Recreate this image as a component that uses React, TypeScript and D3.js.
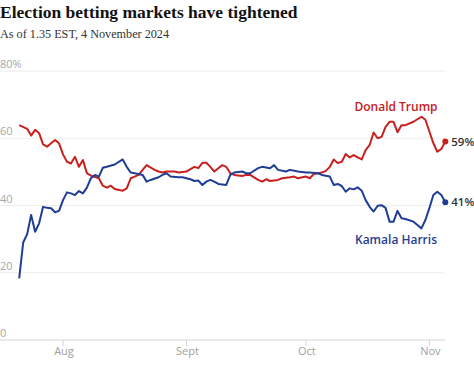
import * as d3 from "d3";

// betting market odds, % chance of winning
const trumpDates = [
  "07-21", "07-23", "07-24", "07-25", "07-26", "07-27", "07-28", "07-29", "07-30", "07-31",
  "08-01", "08-02", "08-03", "08-04", "08-05", "08-06", "08-07", "08-08", "08-10", "08-11",
  "08-12", "08-13", "08-14", "08-16", "08-17", "08-18", "08-19", "08-20", "08-21", "08-22",
  "08-24", "08-25", "08-26", "08-27", "08-29", "08-30", "09-01", "09-02", "09-03", "09-04",
  "09-05", "09-06", "09-07", "09-08", "09-09", "09-10", "09-11", "09-12", "09-13", "09-15",
  "09-16", "09-17", "09-19", "09-20", "09-21", "09-22", "09-24", "09-25", "09-27", "09-28",
  "09-29", "10-01", "10-02", "10-03", "10-05", "10-06", "10-07", "10-08", "10-09", "10-10",
  "10-11", "10-12", "10-13", "10-14", "10-15", "10-16", "10-17", "10-18", "10-19", "10-20",
  "10-21", "10-22", "10-23", "10-24", "10-25", "10-26", "10-28", "10-30", "10-31", "11-01",
  "11-02", "11-03", "11-04", "11-05",
];
const trumpOdds = [
  63.9, 62.8, 60.8, 62.5, 61.5, 58.2, 57.5, 58.5, 59.5, 58.5,
  55.2, 53.0, 52.5, 54.5, 51.5, 53.5, 49.6, 48.9, 48.1, 45.9,
  45.3, 45.9, 44.9, 44.4, 45.1, 48.1, 48.6, 49.1, 50.6, 52.0,
  50.6, 50.1, 49.8, 50.1, 50.1, 49.8, 50.1, 50.8, 51.5, 51.1,
  52.7, 52.7, 51.5, 50.1, 51.1, 52.0, 51.5, 49.6, 49.1, 48.8,
  49.1, 49.1, 47.6, 47.1, 47.8, 47.3, 47.6, 48.1, 48.4, 48.6,
  48.1, 48.6, 48.1, 49.4, 49.8, 50.3, 51.5, 53.7, 52.6, 53.0,
  55.3, 54.3, 55.0, 54.3, 53.7, 56.5, 58.0, 61.7, 60.0, 60.4,
  63.4, 64.9, 64.9, 61.8, 63.9, 63.9, 64.9, 66.4, 65.5, 62.0,
  58.5, 56.0, 56.8, 59.0,
];

const harrisDates = [
  "07-21", "07-22", "07-23", "07-24", "07-25", "07-26", "07-27", "07-28", "07-29", "07-30",
  "07-31", "08-01", "08-02", "08-03", "08-04", "08-05", "08-06", "08-07", "08-08", "08-09",
  "08-10", "08-11", "08-12", "08-14", "08-16", "08-17", "08-18", "08-19", "08-21", "08-22",
  "08-23", "08-25", "08-26", "08-27", "08-28", "08-30", "08-31", "09-02", "09-03", "09-04",
  "09-05", "09-06", "09-07", "09-08", "09-09", "09-11", "09-12", "09-13", "09-15", "09-16",
  "09-17", "09-19", "09-20", "09-22", "09-23", "09-24", "09-26", "09-27", "09-29", "10-01",
  "10-02", "10-04", "10-05", "10-07", "10-08", "10-09", "10-10", "10-11", "10-12", "10-13",
  "10-14", "10-15", "10-16", "10-17", "10-18", "10-19", "10-20", "10-21", "10-22", "10-23",
  "10-24", "10-25", "10-26", "10-28", "10-29", "10-30", "10-31", "11-01", "11-02", "11-03",
  "11-04", "11-05",
];
const harrisOdds = [
  18.3, 29.0, 31.5, 37.2, 32.2, 34.7, 39.6, 39.3, 39.2, 38.0,
  38.4, 41.6, 43.9, 43.6, 43.1, 44.3, 43.6, 45.3, 48.1, 49.1,
  48.6, 51.2, 51.5, 52.2, 53.7, 51.5, 49.8, 49.6, 49.1, 47.1,
  47.6, 48.4, 49.1, 49.6, 48.6, 48.4, 48.4, 47.8, 47.3, 47.4,
  46.1, 47.1, 47.6, 47.1, 46.4, 46.1, 49.1, 49.8, 50.1, 49.6,
  49.6, 51.1, 51.5, 51.1, 52.0, 50.6, 50.1, 50.6, 50.1, 49.8,
  49.8, 49.6, 49.1, 48.6, 46.1, 46.4, 45.8, 44.1, 45.1, 44.8,
  45.4, 44.4, 41.6, 39.6, 38.2, 39.9, 40.1, 39.3, 35.2, 35.2,
  38.4, 36.2, 36.0, 35.2, 34.2, 33.2, 35.7, 39.2, 43.1, 44.1,
  43.1, 41.0,
];

const yTicks = [0, 20, 40, 60, 80];
const monthTicks = ["08-01", "09-01", "10-01", "11-01"];
const monthLabels = ["Aug", "Sept", "Oct", "Nov"];
const lastLabels = ["59%", "41%"];

const RED = "#c8201e";
const BLUE = "#1f3d94";
const sans = "'Open Sans', 'Noto Sans', sans-serif";
const serif = "'Liberation Serif', 'DejaVu Serif', serif";

const parse = d3.timeParse("%Y-%m-%d");
const toDate = (md: string) => parse("2024-" + md) as Date;

const App = () => {
  const width = 474;
  const height = 366;

  const x = d3
    .scaleTime()
    .domain([toDate("07-21"), toDate("11-05")])
    .range([19.2, 445.3]);

  const y = d3.scaleLinear().domain([0, 80]).range([340, 71]);

  const trump = trumpDates.map((d, i) => ({ date: toDate(d), val: trumpOdds[i] }));
  const harris = harrisDates.map((d, i) => ({ date: toDate(d), val: harrisOdds[i] }));

  const line = d3
    .line<{ date: Date; val: number }>()
    .x((d) => x(d.date))
    .y((d) => y(d.val));

  const series = [
    { name: "Donald Trump", data: trump, color: RED, label: lastLabels[0], nameY: 111 },
    { name: "Kamala Harris", data: harris, color: BLUE, label: lastLabels[1], nameY: 244 },
  ];

  return (
    <svg
      width={width}
      height={height}
      style={{ position: "absolute", left: 0, top: 0, background: "#fff" }}
    >
      <text x={0} y={18} fontFamily={serif} fontWeight="bold" fontSize={17.5} fill="#121212">
        Election betting markets have tightened
      </text>
      <text x={0} y={38} fontFamily={serif} fontSize={12.2} fill="#333">
        As of 1.35 EST, 4 November 2024
      </text>

      {/* grid */}
      {yTicks.map((t) => (
        <g key={t}>
          <line
            x1={0}
            x2={445}
            y1={y(t)}
            y2={y(t)}
            stroke={t === 0 ? "#d4d4d4" : "#ececec"}
            strokeWidth={1}
          />
          <text x={0} y={y(t) - 3} fontFamily={sans} fontSize={11} fill="#a8a8a8">
            {t === 80 ? "80%" : t}
          </text>
        </g>
      ))}

      {/* x axis */}
      {monthTicks.map((m, i) => (
        <g key={m}>
          <line x1={x(toDate(m))} x2={x(toDate(m))} y1={340} y2={346} stroke="#d4d4d4" />
          <text
            x={x(toDate(m)) + 1}
            y={355}
            textAnchor="middle"
            fontFamily={sans}
            fontSize={11}
            fill="#a0a0a0"
          >
            {monthLabels[i]}
          </text>
        </g>
      ))}

      {series.map((s) => {
        const last = s.data[s.data.length - 1];
        return (
          <g key={s.name}>
            <path d={line(s.data) || ""} fill="none" stroke={s.color} strokeWidth={2} strokeLinejoin="round" />
            <circle cx={x(last.date)} cy={y(last.val)} r={3} fill={s.color} />
            <text
              x={x(last.date) + 6}
              y={y(last.val) + 4}
              fontFamily={sans}
              fontSize={11.5}
              fontWeight={600}
              fill="#333"
            >
              {s.label}
            </text>
            <text
              x={396}
              y={s.nameY}
              textAnchor="middle"
              fontFamily={sans}
              fontSize={12}
              fontWeight={600}
              fill={s.color}
            >
              {s.name}
            </text>
          </g>
        );
      })}
    </svg>
  );
};

export default App;
